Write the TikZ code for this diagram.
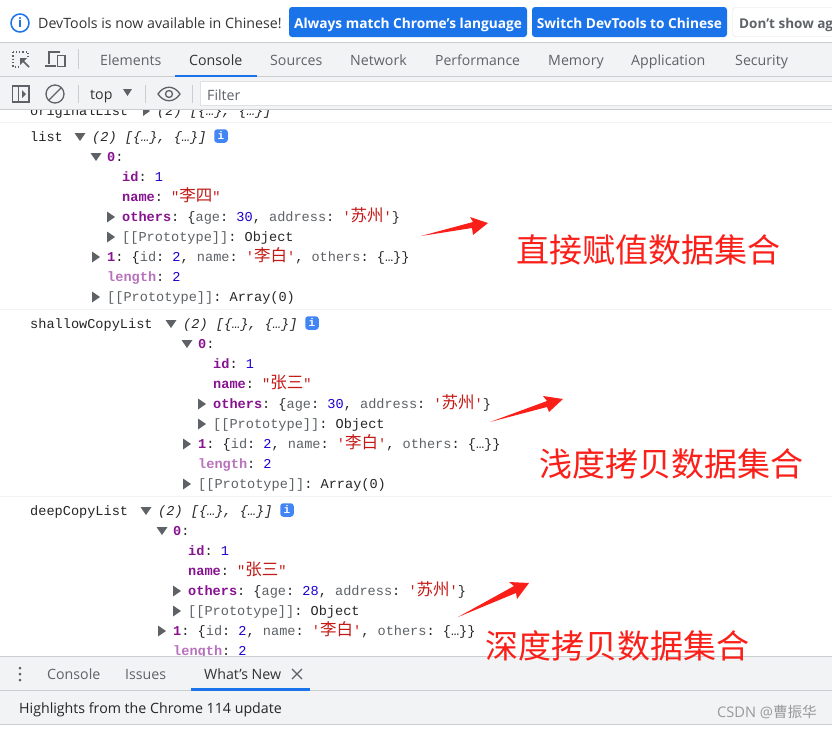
\documentclass[tikz,border=0pt]{standalone}
\usepackage{fontspec}
\setmainfont{Open Sans}
\setmonofont{Liberation Mono}
\newfontfamily\cjkfont{Noto Sans CJK SC}
\usetikzlibrary{positioning}

\definecolor{chromeblue}{HTML}{1A73E8}
\definecolor{badgeblue}{HTML}{4285F4}
\definecolor{panelgray}{HTML}{F1F3F4}
\definecolor{panelline}{HTML}{CBCDD1}
\definecolor{tabtext}{HTML}{5F6368}
\definecolor{keypurple}{HTML}{881391}
\definecolor{keylight}{HTML}{B871BD}
\definecolor{valblue}{HTML}{1C00CF}
\definecolor{valred}{HTML}{C41A16}
\definecolor{protogray}{HTML}{5E6266}
\definecolor{arrowred}{HTML}{FB1F1A}

\tikzset{
	uitext/.style={inner sep=0pt,anchor=west,text height=13pt,text depth=3pt,font=\fontsize{14.2}{16}\selectfont,text=tabtext},
	buttontext/.style={inner sep=0pt,text height=13pt,text depth=3pt,font=\fontsize{13.7}{16}\selectfont\bfseries,text=white},
	button/.style={fill=chromeblue,rounded corners=3pt},
	row/.style={inner sep=0pt,anchor=west,text height=12pt,text depth=3pt,font=\fontsize{13.6}{16}\ttfamily,text=black!85},
	toolsep/.style={draw=panelline,line width=1pt},
	tooltri/.style={fill=protogray},
	bigred/.style={inner sep=0pt,anchor=west,font=\fontsize{33}{36}\cjkfont,text=arrowred},
	redarrow/.style={fill=arrowred},
}

\newcommand{\cn}[1]{{\cjkfont\fontsize{16.5}{16}\selectfont #1}}
\newcommand{\kw}[1]{\textcolor{keypurple}{\textbf{#1}}}
\newcommand{\tright}[2]{\fill[tooltri] (#1,#2-5.5) -- (#1+8,#2) -- (#1,#2+5.5) -- cycle;}
\newcommand{\tdown}[2]{\fill[tooltri] (#1-5.5,#2-4) -- (#1+5.5,#2-4) -- (#1,#2+4) -- cycle;}
\newcommand{\infobadge}[2]{\node[fill=badgeblue,rounded corners=3pt,minimum size=13.5pt,inner sep=0pt,text=white,font=\fontsize{11}{11}\ttfamily\bfseries] (#1) at (#2) {i};}

% #1 prefix, #2 x offset, #3 y offset, #4 title, #5 triangle x, #6 name, #7 age
\newcommand{\listgroup}[7]{
	\begin{scope}[shift={(#2,#3)}]
		\node[row] (#1title) at (30-#2,137) {#4};
		\tdown{#5-#2}{137}
		\node[row] (#1len) at (#5+12-#2,137) {\textit{(2) [\{…\}, \{…\}]}};
		\infobadge{#1info}{#5+141-#2,136}
		\tdown{96}{157}
		\node[row] (#1zero) at (107,157) {\kw{0}:};
		\node[row] (#1id) at (122,177) {\kw{id}: \textcolor{valblue}{1}};
		\node[row] (#1name) at (122,197) {\kw{name}: \textcolor{valred}{"\cn{#6}"}};
		\tright{107}{217}
		\node[row] (#1others) at (122,217) {\kw{others}: \{\textcolor{protogray}{age}: \textcolor{valblue}{#7}, \textcolor{protogray}{address}: \textcolor{valred}{'\cn{苏州}'}\}};
		\tright{107}{237}
		\node[row] (#1proto) at (122,237) {\textcolor{protogray}{[[Prototype]]}: Object};
		\tright{92}{257}
		\node[row] (#1one) at (107,257) {\kw{1}: \{\textcolor{protogray}{id}: \textcolor{valblue}{2}, \textcolor{protogray}{name}: \textcolor{valred}{'\cn{李白}'}, \textcolor{protogray}{others}: \{…\}\}};
		\node[row] (#1length) at (107,277) {\textcolor{keylight}{\textbf{length}}: \textcolor{valblue}{2}};
	\end{scope}
}

\begin{document}
\begin{tikzpicture}[x=1pt,y=-1pt]
	\useasboundingbox (0,0) rectangle (832,729);
	\fill[white] (0,0) rectangle (832,729);

	% console rows
	\node[row] (orig) at (30,111) {originalList};
	\fill[tooltri] (143,106) -- (150,111) -- (143,116) -- cycle;
	\node[row] (origlen) at (157,111) {\textit{(2) [\{…\}, \{…\}]}};
	\draw[panelgray,line width=1pt] (0,122.5) -- (832,122.5);
	\listgroup{a}{0}{0}{list}{80}{李四}{30}
	\tright{92}{297}
	\node[row] (aarray) at (107,297) {\textcolor{protogray}{[[Prototype]]}: Array(0)};
	\draw[panelgray,line width=1pt] (0,309.5) -- (832,309.5);
	\listgroup{b}{91}{187}{shallowCopyList}{171}{张三}{30}
	\tright{183}{484}
	\node[row] (barray) at (198,484) {\textcolor{protogray}{[[Prototype]]}: Array(0)};
	\draw[panelgray,line width=1pt] (0,496.5) -- (832,496.5);
	\listgroup{c}{66}{374}{deepCopyList}{146}{张三}{28}

	% top bars
	\fill[white] (0,0) rectangle (832,42);
	\fill[panelgray] (0,43) rectangle (832,76);
	\fill[panelgray] (0,77) rectangle (832,109);
	\draw[panelline,line width=1pt] (0,42.5) -- (832,42.5);
	\draw[panelline,line width=1pt] (0,76.5) -- (832,76.5);
	\draw[panelline,line width=1pt] (0,109.5) -- (832,109.5);

	% info bar
	\draw[chromeblue,line width=1.5pt] (20,23) circle (9);
	\node[inner sep=0pt,text=chromeblue,font=\fontsize{13}{13}\selectfont\bfseries] (infoi) at (20,23) {i};
	\node[uitext,text=black!80] (devmsg) at (38,23) {DevTools is now available in Chinese!};
	\fill[button] (289,7) rectangle (527,37);
	\node[buttontext] (always) at (408,23) {Always match Chrome's language};
	\fill[button] (532,7) rectangle (727,37);
	\node[buttontext] (switch) at (629.5,23) {Switch DevTools to Chinese};
	\draw[panelline!60,rounded corners=3pt] (732.5,7.5) rectangle (840,36.5);
	\node[uitext,font=\fontsize{13.5}{16}\selectfont\bfseries] (dontshow) at (739,23) {Don't show ag};

	% tabs
	\draw[protogray,line width=1.3pt,dotted] (13,52) rectangle (28,67);
	\fill[panelgray] (19,58) rectangle (31,70);
	\draw[protogray,line width=1.5pt] (21,59) -- (29,67);
	\fill[protogray] (20,58) -- (27,58) -- (20,65) -- cycle;
	\draw[protogray,line width=1.3pt] (49,64) -- (49,52) -- (60,52);
	\draw[protogray,line width=1.3pt] (45,66) -- (56,66);
	\draw[protogray,line width=1.3pt] (57.5,55.5) rectangle (65,66.5);
	\draw[toolsep] (78.5,49) -- (78.5,69);
	\node[uitext] (elements) at (100,60) {Elements};
	\node[uitext,text=black!80] (console) at (189,60) {Console};
	\node[uitext] (sources) at (270,60) {Sources};
	\node[uitext] (network) at (350,60) {Network};
	\node[uitext,font=\fontsize{14}{16}\selectfont] (perf) at (435,60) {Performance};
	\node[uitext] (memory) at (548,60) {Memory};
	\node[uitext] (appl) at (631,60) {Application};
	\node[uitext] (security) at (735,60) {Security};
	\fill[chromeblue] (175,74.5) rectangle (257,77);

	% filter row
	\draw[protogray,line width=1.3pt] (12.5,86) rectangle (29,102);
	\draw[protogray,line width=1.3pt] (18.5,86) -- (18.5,102);
	\fill[protogray] (22,90) -- (26,94) -- (22,98) -- cycle;
	\draw[protogray,line width=1.3pt] (55,94) circle (9);
	\draw[protogray,line width=1.3pt] (49,100) -- (61,88);
	\draw[toolsep] (78.5,85) -- (78.5,103);
	\node[uitext,text=black!80] (top) at (90,94) {top};
	\fill[tooltri] (123,89) -- (132,89) -- (127.5,96) -- cycle;
	\draw[toolsep] (145.5,85) -- (145.5,103);
	\draw[protogray,line width=1.3pt] (158,94) .. controls (164,85) and (174,85) .. (180,94) .. controls (174,103) and (164,103) .. (158,94) -- cycle;
	\draw[protogray,line width=1.3pt] (169,94) circle (3.5);
	\draw[toolsep] (192.5,85) -- (192.5,103);
	\fill[white] (200,81) rectangle (832,105);
	\draw[panelline!60] (200.5,81.5) rectangle (840,105.5);
	\node[uitext] (filter) at (207,95) {Filter};

	% drawer
	\fill[panelgray] (0,656) rectangle (832,724);
	\draw[panelline,line width=1pt] (0,656.5) -- (832,656.5);
	\draw[panelline,line width=1pt] (0,690.5) -- (832,690.5);
	\draw[panelline,line width=1pt] (0,724.5) -- (832,724.5);
	\fill[protogray] (20,668) circle (1.5) (20,674) circle (1.5) (20,680) circle (1.5);
	\node[uitext] (dconsole) at (47,674) {Console};
	\node[uitext] (dissues) at (125,674) {Issues};
	\node[uitext,text=black!80] (dnew) at (204,674) {What's New};
	\draw[protogray,line width=1.2pt] (292,669) -- (302,679) (302,669) -- (292,679);
	\fill[chromeblue] (191,688) rectangle (310,691);
	\node[uitext,text=black!85] (highlights) at (19,708) {Highlights from the Chrome 114 update};
	\node[inner sep=0pt,anchor=east,text=black!40,font=\fontsize{14.6}{16}\selectfont] (mark) at (817,712) {CSDN @\cjkfont 曹振华};

	% red notes
	\fill[redarrow] (421,236) -- (473,222) -- (470,217) -- (488,223) -- (473,235) -- (472,228) -- cycle;
	\node[bigred] (notea) at (516,250) {直接赋值数据集合};
	\fill[redarrow] (490,422) -- (547,401) -- (543,396) -- (563,399) -- (549,412) -- (547,407) -- cycle;
	\node[bigred] (noteb) at (539,464) {浅度拷贝数据集合};
	\fill[redarrow] (458,617) -- (514,586) -- (509,582) -- (529,583) -- (517,599) -- (516,593) -- cycle;
	\node[bigred] (notec) at (485,646) {深度拷贝数据集合};
\end{tikzpicture}
\end{document}
